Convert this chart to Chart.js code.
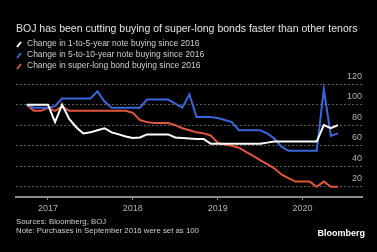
<!DOCTYPE html>
<html>
<head>
<meta charset="utf-8">
<script src="https://cdn.jsdelivr.net/npm/chart.js@4"></script>
<style>
  html, body { margin: 0; padding: 0; background: #000; }
  canvas { display: block; }
</style>
</head>
<body>
<canvas id="mychart" width="377" height="252"></canvas>
<script>
// monthly points, Oct 2016 .. Jun 2020
const months = [
  '2016-10', '2016-11', '2016-12',
  '2017-01', '2017-02', '2017-03', '2017-04', '2017-05', '2017-06', '2017-07', '2017-08', '2017-09', '2017-10', '2017-11', '2017-12',
  '2018-01', '2018-02', '2018-03', '2018-04', '2018-05', '2018-06', '2018-07', '2018-08', '2018-09', '2018-10', '2018-11', '2018-12',
  '2019-01', '2019-02', '2019-03', '2019-04', '2019-05', '2019-06', '2019-07', '2019-08', '2019-09', '2019-10', '2019-11', '2019-12',
  '2020-01', '2020-02', '2020-03', '2020-04', '2020-05', '2020-06'
];

const shortNotes = [
  100, 100, 100,
  100, 83, 100, 86, 78, 72, 73, 75, 77, 73, 71, 69,
  67.5, 68, 71, 71, 71, 71, 68, 67.5, 67, 66.5, 66.5, 62,
  62, 62, 62, 62, 62, 62, 62, 63, 64, 64, 64, 64,
  64, 64, 64, 80, 77, 80
];

const midNotes = [
  100, 97, 97,
  97, 98.5, 106, 106, 106, 106, 106, 113, 103, 97, 97, 97,
  97, 97, 105, 105, 105, 105, 101, 97, 110, 88, 88, 88,
  87, 85, 83, 75, 75, 75, 75, 72, 67, 59, 55, 55,
  55, 55, 55, 115, 69.5, 72
];

const superLong = [
  100, 94, 94,
  97, 94, 98, 94, 94, 94, 94, 94, 94, 94, 94, 94,
  92, 85, 83, 82, 82, 82, 80, 77, 75, 73, 72, 70,
  63, 61, 60, 58, 54, 50, 46, 42, 38, 32, 28.5, 25,
  25, 25, 20, 25, 20, 20
];

const seriesNames = [
  'Change in 1-to-5-year note buying since 2016',
  'Change in 5-to-10-year note buying since 2016',
  'Change in super-long bond buying since 2016'
];
const seriesColors = ['#ffffff', '#3a66dc', '#e2553f'];

const yearTicks = [0, 12, 24, 36];
const yearLabels = ['2017', '2018', '2019', '2020'];
const yTicks = [20, 40, 60, 80, 100, 120];

const titleText = 'BOJ has been cutting buying of super-long bonds faster than other tenors';
const sourceText = 'Sources: Bloomberg, BOJ';
const noteText = 'Note: Purchases in September 2016 were set as 100';

// month string -> months since Jan 2017
function monthIndex(s) {
  let parts = s.split('-');
  return (parseInt(parts[0]) - 2017) * 12 + parseInt(parts[1]) - 1;
}

function toPoints(values) {
  return values.map((v, i) => ({ x: monthIndex(months[i]), y: v }));
}

const FONT = '"Liberation Sans", Arial, sans-serif';

const textPlugin = {
  id: 'texts',
  afterDraw(chart) {
    let ctx = chart.ctx;
    ctx.save();
    ctx.textBaseline = 'middle';
    ctx.textAlign = 'left';

    ctx.fillStyle = '#e4e4e4';
    ctx.font = '10.5px ' + FONT;
    ctx.fillText(titleText, 16, 29);

    ctx.font = '8.5px ' + FONT;
    for (let i = 0; i < seriesNames.length; i++) {
      let y = 44 + i * 11;
      ctx.strokeStyle = seriesColors[i];
      ctx.lineWidth = 2;
      ctx.beginPath();
      ctx.moveTo(17, y + 3);
      ctx.lineTo(21, y - 2);
      ctx.stroke();
      ctx.fillStyle = '#cfcfcf';
      ctx.fillText(seriesNames[i], 27, y);
    }

    ctx.font = '7.8px ' + FONT;
    ctx.fillStyle = '#cfcfcf';
    ctx.fillText(sourceText, 16, 222);
    ctx.fillText(noteText, 16, 231);

    ctx.font = 'bold 9px ' + FONT;
    ctx.fillStyle = '#ffffff';
    ctx.textAlign = 'right';
    ctx.fillText('Bloomberg', 365, 234);
    ctx.restore();
  }
};

const data = {
  datasets: [0, 1, 2].map(i => ({
    label: seriesNames[i],
    data: toPoints([shortNotes, midNotes, superLong][i]),
    borderColor: seriesColors[i],
    backgroundColor: seriesColors[i],
    borderWidth: 2,
    pointRadius: 0,
    tension: 0,
    order: i
  }))
};

const config = {
  type: 'line',
  data: data,
  options: {
    responsive: false,
    animation: false,
    layout: { padding: { left: 16, right: 15, top: 79, bottom: 0 } },
    plugins: {
      legend: { display: false },
      tooltip: { enabled: false }
    },
    scales: {
      x: {
        type: 'linear',
        min: -4.52,
        max: 44.4,
        afterBuildTicks: scale => { scale.ticks = yearTicks.map(v => ({ value: v })); },
        afterFit: scale => { scale.height = 55; },
        ticks: {
          color: '#b0b0b0',
          font: { family: FONT, size: 9 },
          padding: 3,
          maxRotation: 0,
          callback: (v, i) => yearLabels[i]
        },
        grid: { drawOnChartArea: false, drawTicks: true, tickLength: 3, color: '#888' },
        border: { color: '#8a8a8a', width: 2 }
      },
      y: {
        type: 'linear',
        position: 'right',
        min: 10,
        max: 125,
        afterBuildTicks: scale => { scale.ticks = yTicks.map(v => ({ value: v })); },
        ticks: {
          mirror: true,
          padding: 0,
          labelOffset: -8,
          color: '#b0b0b0',
          font: { family: FONT, size: 9 }
        },
        grid: { color: '#5a5a5a', drawTicks: false, lineWidth: 1 },
        border: { display: false, dash: [2, 2] }
      }
    }
  },
  plugins: [textPlugin]
};

var myChart = new Chart(document.getElementById('mychart'), config);
</script>
</body>
</html>
